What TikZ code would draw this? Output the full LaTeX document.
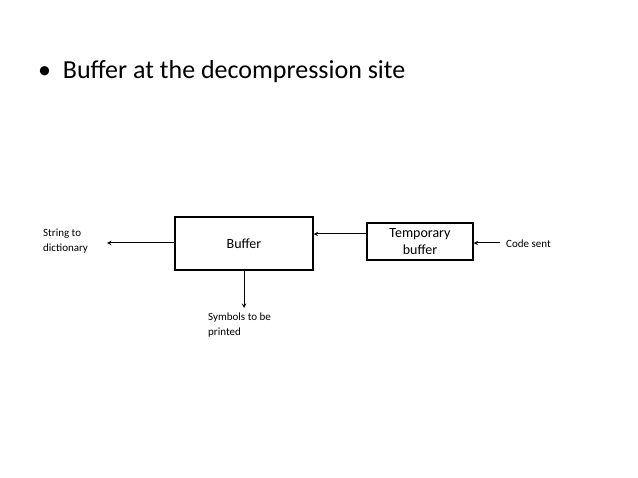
\documentclass[tikz,border=0pt]{standalone}
\usepackage{fontspec}
\setmainfont{Carlito}
\begin{document}
\begin{tikzpicture}[x=1pt,y=-1pt,
  box/.style={draw,line width=1.2pt,inner sep=0pt},
  arr/.style={->,line width=1pt,>=stealth},
  lbl/.style={font=\fontsize{11}{15}\selectfont,align=left,inner sep=0pt}]
\useasboundingbox (0,0) rectangle (638,478);
\node[anchor=base west,font=\fontsize{26}{30}\selectfont,inner sep=0pt] (title) at (38,79) {\textbullet\ \ Buffer at the decompression site};
\node[box,minimum width=138pt,minimum height=53pt,font=\fontsize{14}{16}\selectfont] (buf) at (244,243.5) {Buffer};
\node[box,minimum width=106pt,minimum height=37pt,align=center,font=\fontsize{14}{17}\selectfont] (tmp) at (420,241.5) {Temporary\\buffer};
\node[lbl,anchor=west] (code) at (506,244) {Code sent};
\node[lbl,anchor=west] (str) at (43,241.5) {String to\\dictionary};
\node[lbl,anchor=north west] (sym) at (208,313) {Symbols to be\\printed};
\coordinate (c1) at (500,243);
\coordinate (c2) at (107,243);
\coordinate (c3) at (244,308);
\draw[arr] (c1) -- (tmp.east |- c1);
\draw[arr] (tmp.west |- 0,234) -- (buf.east |- 0,234);
\draw[arr] (buf.west |- c2) -- (c2);
\draw[arr] (buf.south) -- (c3);
\end{tikzpicture}
\end{document}
